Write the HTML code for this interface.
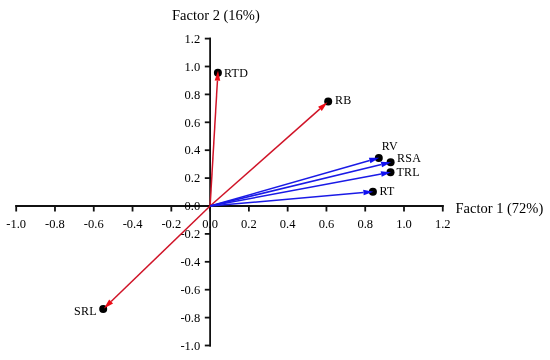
<!DOCTYPE html><html><head><meta charset="utf-8"><style>html,body{margin:0;padding:0;background:#fff;}svg{display:block;}text{font-family:"Liberation Serif","Times New Roman",serif;fill:#000;}</style></head><body>
<svg width="550" height="360" viewBox="0 0 550 360">
<g stroke="#111" stroke-width="1.8" fill="none" stroke-linecap="square">
<line x1="16.20" y1="206.00" x2="442.78" y2="206.00"/>
<line x1="210.10" y1="38.60" x2="210.10" y2="345.50"/>
<line x1="16.20" y1="206.00" x2="16.20" y2="210.60"/>
<line x1="210.10" y1="345.50" x2="205.70" y2="345.50"/>
<line x1="54.98" y1="206.00" x2="54.98" y2="210.60"/>
<line x1="210.10" y1="317.60" x2="205.70" y2="317.60"/>
<line x1="93.76" y1="206.00" x2="93.76" y2="210.60"/>
<line x1="210.10" y1="289.70" x2="205.70" y2="289.70"/>
<line x1="132.54" y1="206.00" x2="132.54" y2="210.60"/>
<line x1="210.10" y1="261.80" x2="205.70" y2="261.80"/>
<line x1="171.32" y1="206.00" x2="171.32" y2="210.60"/>
<line x1="210.10" y1="233.90" x2="205.70" y2="233.90"/>
<line x1="210.10" y1="206.00" x2="210.10" y2="210.60"/>
<line x1="210.10" y1="206.00" x2="205.70" y2="206.00"/>
<line x1="248.88" y1="206.00" x2="248.88" y2="210.60"/>
<line x1="210.10" y1="178.10" x2="205.70" y2="178.10"/>
<line x1="287.66" y1="206.00" x2="287.66" y2="210.60"/>
<line x1="210.10" y1="150.20" x2="205.70" y2="150.20"/>
<line x1="326.44" y1="206.00" x2="326.44" y2="210.60"/>
<line x1="210.10" y1="122.30" x2="205.70" y2="122.30"/>
<line x1="365.22" y1="206.00" x2="365.22" y2="210.60"/>
<line x1="210.10" y1="94.40" x2="205.70" y2="94.40"/>
<line x1="404.00" y1="206.00" x2="404.00" y2="210.60"/>
<line x1="210.10" y1="66.50" x2="205.70" y2="66.50"/>
<line x1="442.78" y1="206.00" x2="442.78" y2="210.60"/>
<line x1="210.10" y1="38.60" x2="205.70" y2="38.60"/>
</g>
<g font-size="12.5">
<text x="16.20" y="228.20" text-anchor="middle">-1.0</text>
<text x="200.20" y="349.70" text-anchor="end">-1.0</text>
<text x="54.98" y="228.20" text-anchor="middle">-0.8</text>
<text x="200.20" y="321.80" text-anchor="end">-0.8</text>
<text x="93.76" y="228.20" text-anchor="middle">-0.6</text>
<text x="200.20" y="293.90" text-anchor="end">-0.6</text>
<text x="132.54" y="228.20" text-anchor="middle">-0.4</text>
<text x="200.20" y="266.00" text-anchor="end">-0.4</text>
<text x="171.32" y="228.20" text-anchor="middle">-0.2</text>
<text x="200.20" y="238.10" text-anchor="end">-0.2</text>
<text x="210.10" y="228.20" text-anchor="middle">0.0</text>
<text x="200.20" y="210.20" text-anchor="end">0.0</text>
<text x="248.88" y="228.20" text-anchor="middle">0.2</text>
<text x="200.20" y="182.30" text-anchor="end">0.2</text>
<text x="287.66" y="228.20" text-anchor="middle">0.4</text>
<text x="200.20" y="154.40" text-anchor="end">0.4</text>
<text x="326.44" y="228.20" text-anchor="middle">0.6</text>
<text x="200.20" y="126.50" text-anchor="end">0.6</text>
<text x="365.22" y="228.20" text-anchor="middle">0.8</text>
<text x="200.20" y="98.60" text-anchor="end">0.8</text>
<text x="404.00" y="228.20" text-anchor="middle">1.0</text>
<text x="200.20" y="70.70" text-anchor="end">1.0</text>
<text x="442.78" y="228.20" text-anchor="middle">1.2</text>
<text x="200.20" y="42.80" text-anchor="end">1.2</text>
</g>
<text x="172" y="19.5" font-size="14.5">Factor 2 (16%)</text>
<text x="455.5" y="212.5" font-size="14.5">Factor 1 (72%)</text>
<circle cx="217.90" cy="72.70" r="4" fill="#000"/>
<circle cx="328.20" cy="101.60" r="4" fill="#000"/>
<circle cx="378.80" cy="157.90" r="4" fill="#000"/>
<circle cx="390.60" cy="162.30" r="4" fill="#000"/>
<circle cx="390.50" cy="172.30" r="4" fill="#000"/>
<circle cx="372.90" cy="191.70" r="4" fill="#000"/>
<circle cx="103.20" cy="309.10" r="4" fill="#000"/>
<line x1="210.10" y1="206.00" x2="217.43" y2="80.69" stroke="#d01428" stroke-width="1.5"/>
<polygon points="218.02,70.70 220.23,80.85 214.64,80.52" fill="#ec0c16"/>
<line x1="210.10" y1="206.00" x2="319.96" y2="108.89" stroke="#d01428" stroke-width="1.5"/>
<polygon points="327.45,102.26 321.81,110.98 318.10,106.79" fill="#ec0c16"/>
<line x1="210.10" y1="206.00" x2="369.66" y2="160.50" stroke="#1a1ae6" stroke-width="1.5"/>
<polygon points="379.28,157.76 370.43,163.20 368.90,157.81" fill="#1010f0"/>
<line x1="210.10" y1="206.00" x2="381.37" y2="164.54" stroke="#1a1ae6" stroke-width="1.5"/>
<polygon points="391.09,162.18 382.03,167.26 380.71,161.81" fill="#1010f0"/>
<line x1="210.10" y1="206.00" x2="381.16" y2="174.04" stroke="#1a1ae6" stroke-width="1.5"/>
<polygon points="390.99,172.21 381.68,176.80 380.65,171.29" fill="#1010f0"/>
<line x1="210.10" y1="206.00" x2="363.44" y2="192.53" stroke="#1a1ae6" stroke-width="1.5"/>
<polygon points="373.40,191.66 363.68,195.32 363.19,189.74" fill="#1010f0"/>
<line x1="210.10" y1="206.00" x2="111.12" y2="301.46" stroke="#d01428" stroke-width="1.5"/>
<polygon points="103.92,308.41 109.17,299.45 113.06,303.48" fill="#ec0c16"/>
<g font-size="12" letter-spacing="0.3">
<text x="224.00" y="76.80" text-anchor="start">RTD</text>
<text x="335.00" y="104.40" text-anchor="start">RB</text>
<text x="381.70" y="149.60" text-anchor="start">RV</text>
<text x="397.00" y="162.40" text-anchor="start">RSA</text>
<text x="396.40" y="175.70" text-anchor="start">TRL</text>
<text x="379.50" y="195.00" text-anchor="start">RT</text>
<text x="97.00" y="315.40" text-anchor="end">SRL</text>
</g>
</svg></body></html>
